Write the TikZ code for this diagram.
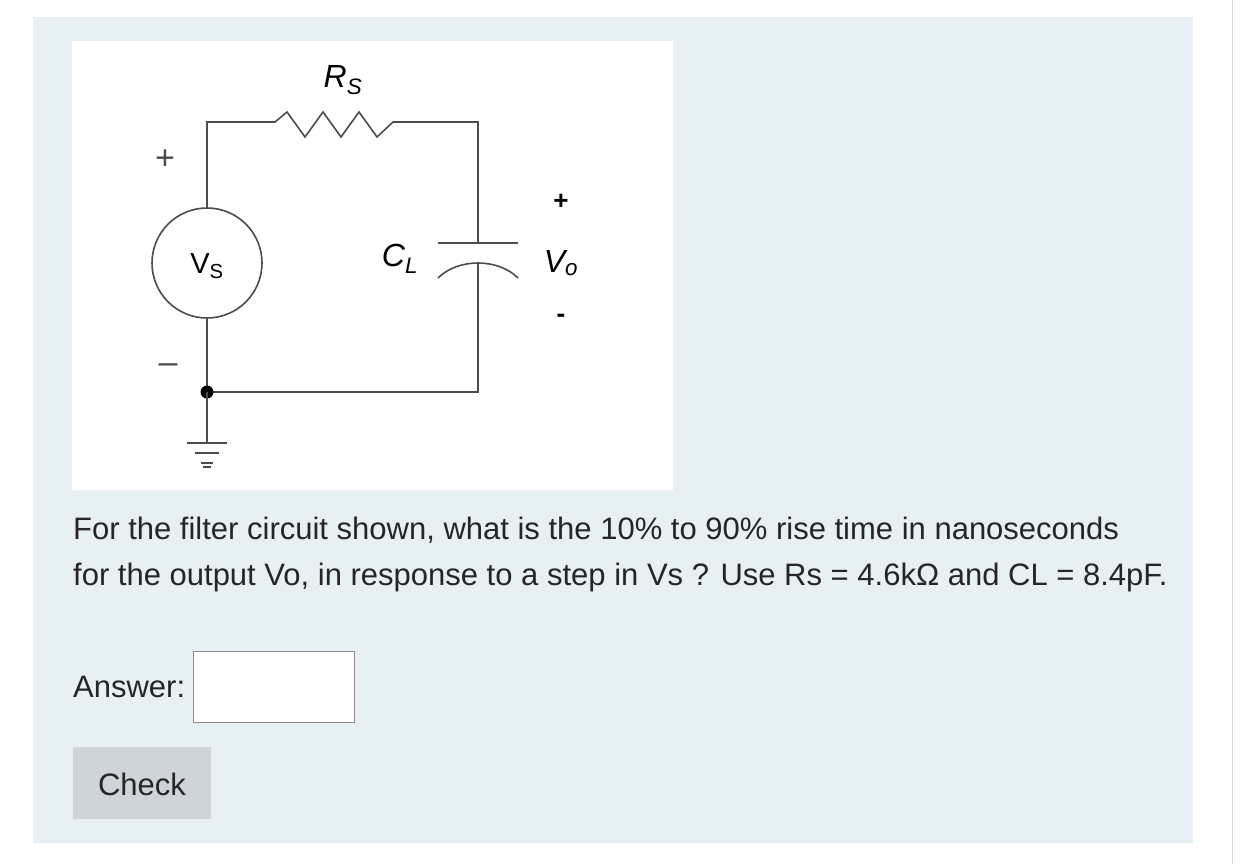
\documentclass[tikz,border=0pt]{standalone}
\usepackage{fontspec}
\setmainfont{Liberation Sans}
\begin{document}
\begin{tikzpicture}[x=1pt,y=-1pt,
  wire/.style={draw=black!70,line width=1.6pt},
  lbl/.style={inner sep=0pt,font=\fontsize{32}{36}\selectfont\itshape},
  qtext/.style={inner sep=0pt,anchor=base west,font=\fontsize{31}{36}\selectfont,text=black!85}]
\useasboundingbox (0,0) rectangle (1242,864);
\fill[white] (0,0) rectangle (1242,864);
\fill[fill={rgb,255:red,231;green,241;blue,244}] (33,17) rectangle (1193,843);
\draw[black!15,line width=1pt] (1232,0) -- (1232,864);
\fill[white] (72,41) rectangle (673,490);
% circuit
\coordinate (tl) at (207,122);
\coordinate (tr) at (478,122);
\coordinate (br) at (478,392);
\coordinate (gnd) at (207,392);
\coordinate (r1) at (275,122);
\coordinate (r2) at (405,122);
\node[circle,draw=black!70,line width=1.6pt,minimum size=110pt,inner sep=0pt] (vs) at (207,263) {};
\node[font=\fontsize{29}{32}\selectfont] at (207,266) {V\textsubscript{S}};
\draw[wire] (vs.north) -- (tl) -- (r1) -- (287,112) -- (305,137) -- (323,112) -- (341,137) -- (359,112) -- (377,137) -- (393,122) -- (r2) -- (tr) -- (478,243);
\node[lbl] at (343,80) {R\textsubscript{S}};
\draw[wire] (438,243) -- (518,243);
\draw[wire] (438,278) .. controls (458,258) and (498,258) .. (518,278);
\draw[wire] (478,263) -- (br) -- (gnd) -- (vs.south);
\fill (gnd) circle (6.5pt);
\draw[wire] (gnd) -- (207,443);
\draw[wire] (187,443) -- (227,443);
\draw[wire] (195,453) -- (219,453);
\draw[wire] (201,463) -- (213,463);
\draw[black!70,line width=1.5pt] (203,467) -- (211,467);
\node[lbl] at (400,259) {C\textsubscript{L}};
\node[lbl] at (561,263) {V\textsubscript{o}};
\node[font=\fontsize{26}{30}\selectfont\bfseries] at (561,202) {+};
\node[font=\fontsize{26}{30}\selectfont\bfseries] at (561,318) {-};
\node[font=\fontsize{34}{36}\selectfont,text=black!70] at (165,160) {+};
\node[font=\fontsize{34}{36}\selectfont,text=black!70] at (168,369) {--};
% question
\node[qtext] (q1) at (73,539) {For the filter circuit shown, what is the 10\% to 90\% rise time in nanoseconds};
\node[qtext] (q2) at (73,585) {for the output Vo, in response to a step in Vs ? Use Rs = 4.6kΩ and CL = 8.4pF.};
\node[qtext] (ans) at (73,697) {Answer:};
\draw[fill=white,draw=black!45,line width=1pt] (193,651) rectangle (354,722);
\fill[fill={rgb,255:red,206;green,212;blue,218}] (73,747) rectangle (211,819);
\node[qtext,anchor=center] (chk) at (142,784) {Check};
\end{tikzpicture}
\end{document}
